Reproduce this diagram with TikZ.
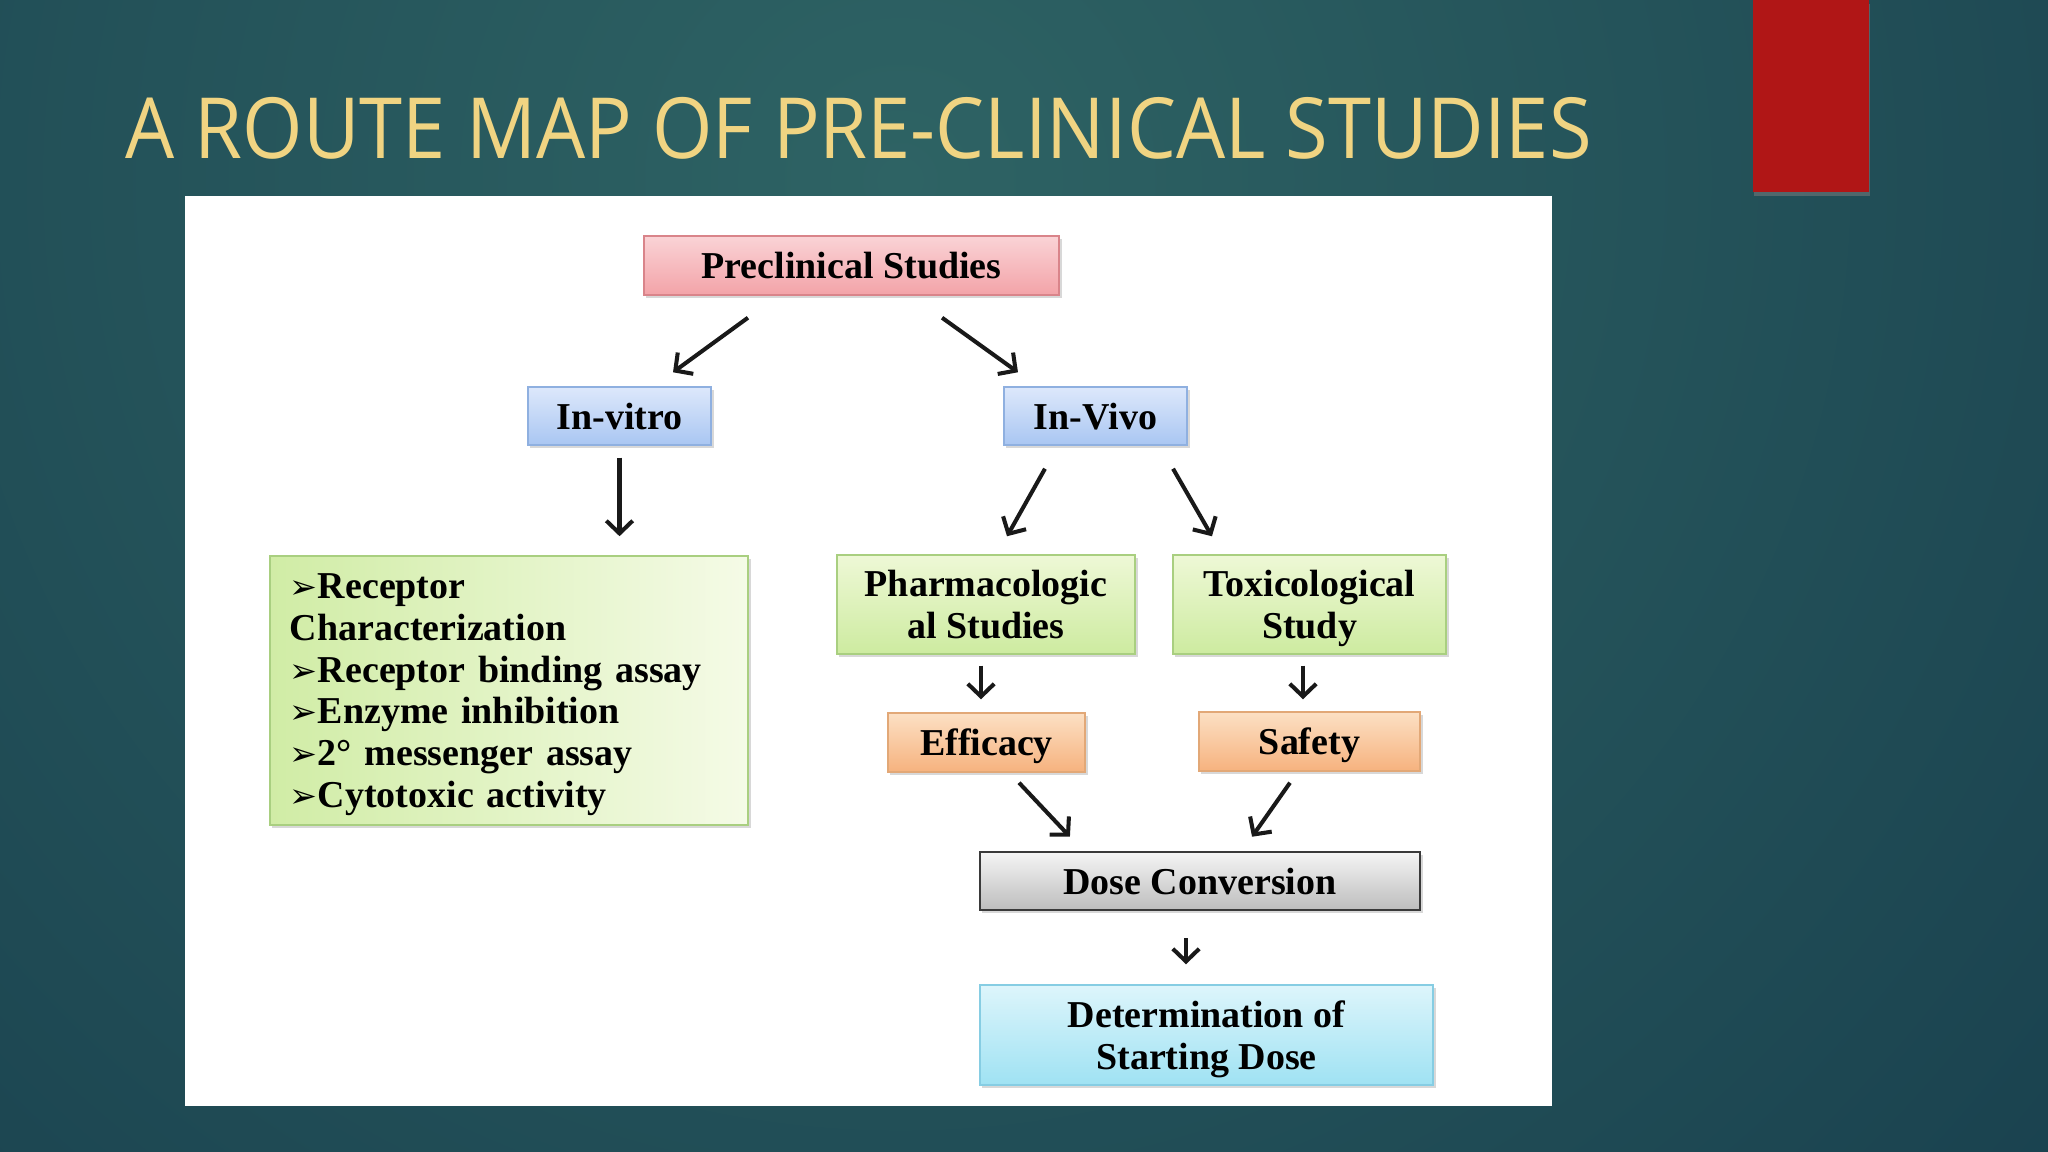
\documentclass[tikz,border=0pt]{standalone}
\usepackage{fontspec}
\setmainfont{Liberation Serif}
\newfontfamily\titlefont{Open Sans}
\newfontfamily\symfont{DejaVu Sans}
\usepackage{graphicx}
\usetikzlibrary{arrows.meta,shadows}

\definecolor{bgdark}{HTML}{153A4A}
\definecolor{bglight}{HTML}{2E6364}
\definecolor{titlegold}{HTML}{F0D482}
\definecolor{slidered}{HTML}{B01616}
\definecolor{pinktop}{HTML}{FAD3D6}
\definecolor{pinkbot}{HTML}{F3A3A8}
\definecolor{pinkline}{HTML}{D9848A}
\definecolor{bluetop}{HTML}{DDE8FB}
\definecolor{bluebot}{HTML}{A9C6F2}
\definecolor{blueline}{HTML}{8FB0E0}
\definecolor{greentop}{HTML}{EEF8D6}
\definecolor{greenbot}{HTML}{CDEBA0}
\definecolor{greenline}{HTML}{A9CF80}
\definecolor{orangetop}{HTML}{FCE0C4}
\definecolor{orangebot}{HTML}{F6B27E}
\definecolor{orangeline}{HTML}{E2A877}
\definecolor{greytop}{HTML}{F5F5F5}
\definecolor{greybot}{HTML}{BDBDBD}
\definecolor{greyline}{HTML}{3A3A3A}
\definecolor{cyantop}{HTML}{DDF5FB}
\definecolor{cyanbot}{HTML}{9FE2F3}
\definecolor{cyanline}{HTML}{86CDE3}

\newcommand{\boxfont}{\fontsize{10.8}{11.9}\selectfont\bfseries}
\newcommand{\arrowbullet}{{\symfont\fontsize{9.5}{11.9}\selectfont ➢}}

\tikzset{
  box/.style={draw, inner sep=0pt, align=center, font=\boxfont, text depth=0pt,
    drop shadow={shadow xshift=0.7pt, shadow yshift=-0.9pt, opacity=0.3}},
  pinkbox/.style={box, draw=pinkline, top color=pinktop, bottom color=pinkbot},
  bluebox/.style={box, draw=blueline, top color=bluetop, bottom color=bluebot},
  greenbox/.style={box, draw=greenline, top color=greentop, bottom color=greenbot},
  listbox/.style={box, text depth={}, draw=greenline, left color=greenbot!90!greentop, right color=greentop!60!white, align=left},
  orangebox/.style={box, draw=orangeline, top color=orangetop, bottom color=orangebot},
  greybox/.style={box, draw=greyline, line width=0.7pt, top color=greytop, bottom color=greybot},
  cyanbox/.style={box, draw=cyanline, top color=cyantop, bottom color=cyanbot},
  arr/.style={-{Straight Barb[length=3.6pt,width=7.5pt]}, line width=1.15pt, black!90},
}

\begin{document}
\begin{tikzpicture}[x=0.01cm, y=-0.01cm]
  \useasboundingbox (0,0) rectangle (2048,1152);
  % slide background
  \begin{scope}
    \clip (0,0) rectangle (2048,1152);
    \fill[bgdark] (0,0) rectangle (2048,1152);
    \shade[inner color=bglight, outer color=bgdark] (900,180) circle (1900);
  \end{scope}
  \fill[slidered, drop shadow={shadow xshift=0.3pt, shadow yshift=-1.2pt, opacity=0.5}] (1753,0) rectangle (1869,192);
  \node[anchor=base west, inner sep=0pt, text=titlegold] (title) at (125,159)
    {\resizebox{416.8pt}{17.4pt}{\titlefont A ROUTE MAP OF PRE-CLINICAL STUDIES}};
  \fill[white] (185,196) rectangle (1552,1106);

  % boxes
  \node[pinkbox, minimum width=4.15cm, minimum height=0.59cm] (pre) at (851.5,265.5) {Preclinical Studies};
  \node[bluebox, minimum width=1.83cm, minimum height=0.58cm] (vitro) at (619.5,416) {In-vitro};
  \node[bluebox, minimum width=1.83cm, minimum height=0.58cm] (vivo) at (1095.5,416) {In-Vivo};
  \node[listbox, text width=4.38cm, inner xsep=0.2cm, minimum height=2.69cm] (assays) at (509,690.5)
    {\arrowbullet Receptor\\Characterization\\\arrowbullet Receptor binding assay\\\arrowbullet Enzyme inhibition\\\arrowbullet 2° messenger assay\\\smash{\arrowbullet Cytotoxic activity}};
  \node[greenbox, minimum width=2.98cm, minimum height=0.99cm] (pharm) at (986,604.5) {Pharmacologic\\al Studies};
  \node[greenbox, minimum width=2.73cm, minimum height=0.99cm] (tox) at (1309.5,604.5) {Toxicological\\Study};
  \node[orangebox, minimum width=1.97cm, minimum height=0.59cm] (eff) at (986.5,742.5) {Efficacy};
  \node[orangebox, minimum width=2.21cm, minimum height=0.59cm] (safe) at (1309.5,741.5) {Safety};
  \node[greybox, minimum width=4.40cm, minimum height=0.58cm] (dose) at (1200,881) {Dose Conversion};
  \node[cyanbox, minimum width=4.53cm, minimum height=1.00cm] (start) at (1206.5,1035) {Determination of\\Starting Dose};

  % arrows
  \draw[arr] ([xshift=-1.035cm,yshift=-0.22cm]pre.south) -- ([xshift=0.535cm,yshift=0.14cm]vitro.north);
  \draw[arr] ([xshift=0.905cm,yshift=-0.22cm]pre.south) -- ([xshift=-0.775cm,yshift=0.14cm]vivo.north);
  \draw[arr] ([yshift=-0.12cm]vitro.south) -- ([yshift=0.19cm]vitro.south |- assays.north);
  \draw[arr] ([xshift=-0.505cm,yshift=-0.23cm]vivo.south) -- ([xshift=0.21cm,yshift=0.18cm]pharm.north);
  \draw[arr] ([xshift=0.775cm,yshift=-0.23cm]vivo.south) -- ([xshift=-0.975cm,yshift=0.18cm]tox.north);
  \draw[arr] ([xshift=-0.05cm,yshift=-0.11cm]pharm.south) -- ([xshift=-0.05cm,yshift=0.13cm]pharm.south |- eff.north);
  \draw[arr] ([xshift=-0.065cm,yshift=-0.11cm]tox.south) -- ([xshift=-0.065cm,yshift=0.12cm]tox.south |- safe.north);
  \draw[arr] ([xshift=0.325cm,yshift=-0.10cm]eff.south) -- ([xshift=-1.30cm,yshift=0.14cm]dose.north);
  \draw[arr] ([xshift=-0.195cm,yshift=-0.11cm]safe.south) -- ([xshift=0.52cm,yshift=0.14cm]dose.north);
  \draw[arr] ([xshift=-0.14cm,yshift=-0.27cm]dose.south) -- ([xshift=-0.14cm,yshift=0.2cm]dose.south |- start.north);
\end{tikzpicture}
\end{document}
